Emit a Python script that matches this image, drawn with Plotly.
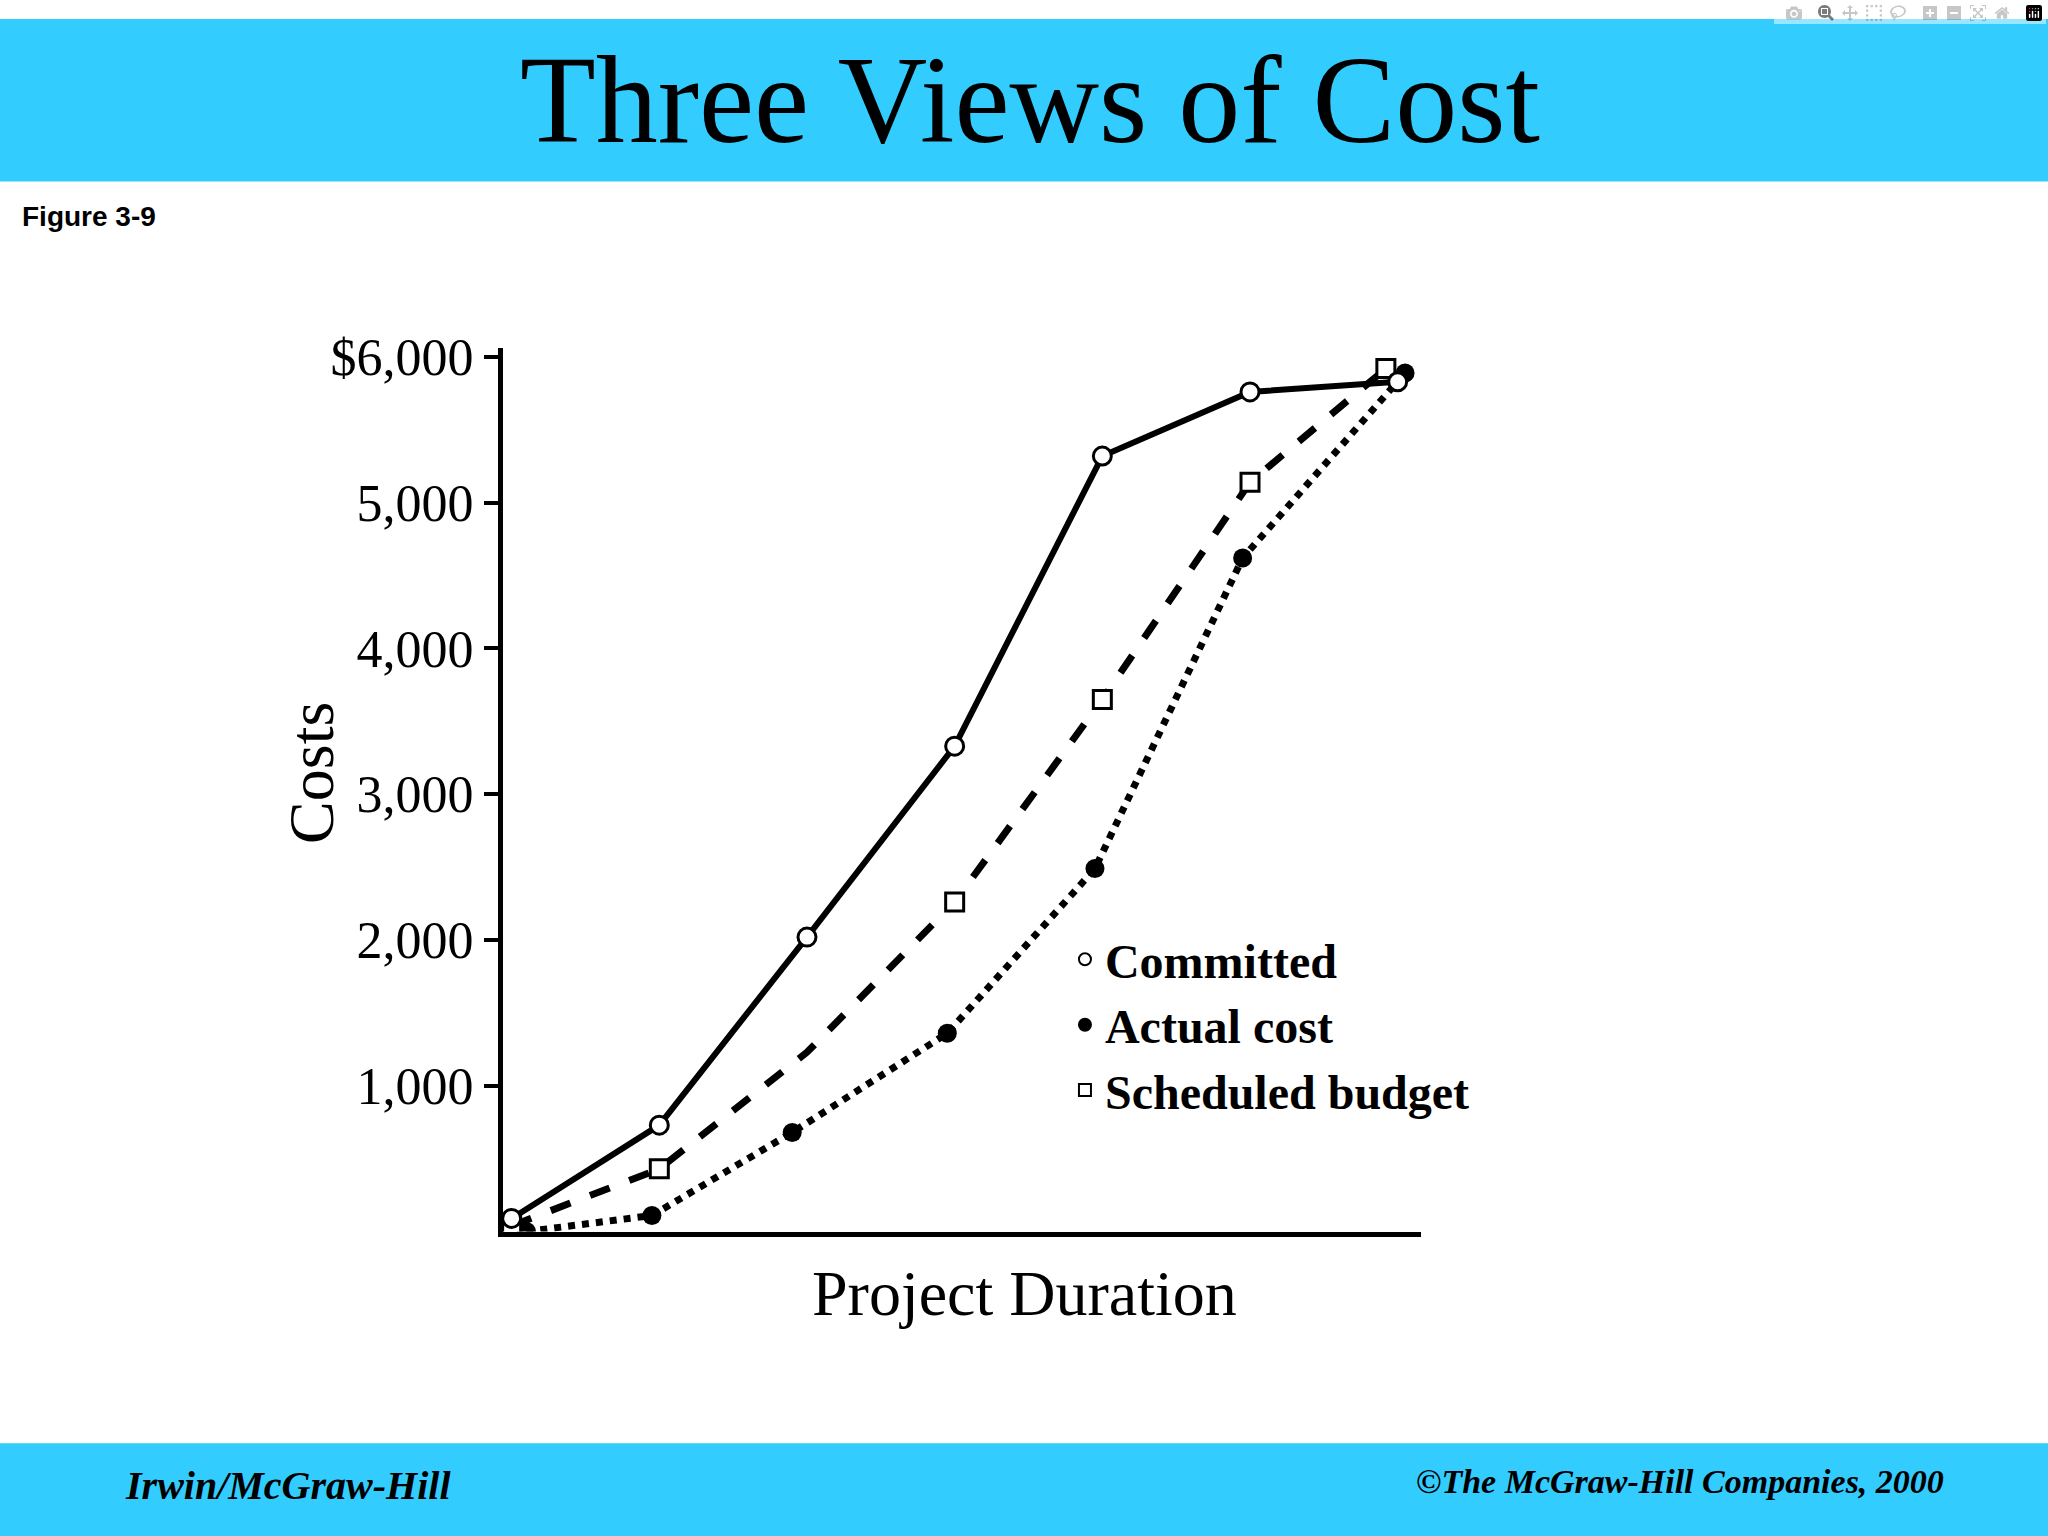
import plotly.graph_objects as go

# period index along project duration
periods = [0, 1, 2, 3, 4, 5, 6]
committed = [90, 730, 2020, 3330, 5320, 5760, 5830]
sched_periods = [0, 1, 2, 3, 4, 5, 5.92]
scheduled = [40, 430, 1230, 2260, 3650, 5140, 5920]
sched_marked = [True, True, False, True, True, True, True]
actual_periods = [0.1, 0.95, 1.9, 2.95, 3.95, 4.95, 6.05]
actual = [0, 110, 680, 1360, 2490, 4620, 5890]

tick_vals = [1000, 2000, 3000, 4000, 5000, 6000]
tick_text = ["1,000", "2,000", "3,000", "4,000", "5,000", "$6,000"]

serif = "Liberation Serif"
blue = "#33CCFF"

fig = go.Figure()

fig.add_trace(go.Scatter(
    x=actual_periods, y=actual, mode="lines+markers", showlegend=False,
    line=dict(color="black", width=7, dash="dot"),
    marker=dict(symbol="circle", size=19, color="black"),
))
fig.add_trace(go.Scatter(
    x=sched_periods, y=scheduled, mode="lines", showlegend=False,
    line=dict(color="black", width=7, dash="dash"),
))
fig.add_trace(go.Scatter(
    x=[p for p, m in zip(sched_periods, sched_marked) if m],
    y=[v for v, m in zip(scheduled, sched_marked) if m],
    mode="markers", showlegend=False,
    marker=dict(symbol="square", size=18, color="white", line=dict(color="black", width=3)),
))
fig.add_trace(go.Scatter(
    x=periods, y=committed, mode="lines+markers", showlegend=False,
    line=dict(color="black", width=6),
    marker=dict(symbol="circle", size=18, color="white", line=dict(color="black", width=3)),
))

# legend-only entries
for name, sym, fill in [("Committed", "circle", "white"),
                        ("Actual cost", "circle", "black"),
                        ("Scheduled budget", "square", "white")]:
    fig.add_trace(go.Scatter(
        x=[None], y=[None], mode="markers", name=name,
        marker=dict(symbol=sym, size=17, color=fill, line=dict(color="black", width=3)),
    ))


def note(text, x, y, size, family=serif, **kw):
    return dict(text=text, xref="paper", yref="paper", x=x, y=y, showarrow=False,
                yanchor="middle", font=dict(family=family, size=size, color="black"), **kw)


fig.update_layout(
    width=2048, height=1536,
    paper_bgcolor="white", plot_bgcolor="white",
    margin=dict(l=0, r=0, t=0, b=0),
    showlegend=True,
    legend=dict(x=0.52, y=0.405, xanchor="left", yanchor="top",
                font=dict(family=serif, size=48, color="black", weight="bold"),
                bgcolor="rgba(0,0,0,0)", itemsizing="constant", tracegroupgap=0),
    xaxis=dict(domain=[0.2455, 0.694], range=[-0.06, 6.16], showticklabels=False,
               showgrid=False, zeroline=False, showline=True, linecolor="black",
               linewidth=5, ticks=""),
    yaxis=dict(domain=[0.2007, 0.783], range=[0, 6060], tickvals=tick_vals,
               ticktext=tick_text, showgrid=False, zeroline=False, showline=True,
               linecolor="black", linewidth=5, ticks="outside", ticklen=14,
               tickwidth=4, tickcolor="black",
               tickfont=dict(family=serif, size=52, color="black")),
    shapes=[
        dict(type="rect", xref="paper", yref="paper", x0=0, x1=1, y0=0.8929, y1=1,
             fillcolor=blue, line=dict(width=0), layer="below"),
        dict(type="rect", xref="paper", yref="paper", x0=0, x1=1, y0=0, y1=0.0612,
             fillcolor=blue, line=dict(width=0), layer="below"),
    ],
    annotations=[
        note("Three Views of Cost", 0.503, 0.946, 124),
        note("<b>Figure 3-9</b>", 0.01, 0.87, 28, family="Liberation Sans", xanchor="left"),
        note("Costs", 0.134, 0.503, 64, textangle=-90),
        note("Project Duration", 0.5, 0.16, 64),
        note("<b><i>Irwin/McGraw-Hill</i></b>", 0.06, 0.033, 40, xanchor="left"),
        note("<b><i>©The McGraw-Hill Companies, 2000</i></b>", 0.95, 0.036, 34,
             xanchor="right"),
    ],
)

fig.write_html("out.html", post_script="document.body.style.margin='0';")
